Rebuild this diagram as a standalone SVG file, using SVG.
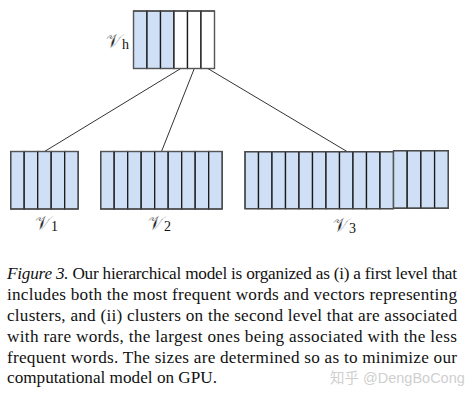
<svg xmlns="http://www.w3.org/2000/svg" width="474" height="402" viewBox="0 0 474 402">
<style>
.cell{fill:#cfdff5;stroke:#1a1a1a;stroke-width:1.3}
.wcell{fill:#ffffff;stroke:#1a1a1a;stroke-width:1.3}
.frame{fill:none;stroke:#555;stroke-width:1}
.conn{stroke:#333;stroke-width:1;fill:none}
.lbl{font-family:"DejaVu Serif","DejaVu Sans","Liberation Serif",serif;font-size:19px;fill:#222;stroke:#ffffff;stroke-width:0.3}
.sub{font-family:"Liberation Serif",serif;font-size:14px;fill:#111;stroke:none}
.cap{font-family:"Liberation Serif",serif;font-size:17.2px;fill:#111}
.wm{font-family:"Liberation Sans","Noto Sans CJK SC",sans-serif;font-size:14.5px;fill:#cfcfcf}
</style>
<rect width="474" height="402" fill="#ffffff"/>
<g id="connectors">
<line class="conn" x1="180.8" y1="68.5" x2="44.5" y2="151.5"/>
<line class="conn" x1="194.3" y1="68.5" x2="161.5" y2="151.5"/>
<line class="conn" x1="207.8" y1="68.5" x2="347" y2="151.5"/>
</g>
<g id="vh">
<rect class="cell" x="133.5" y="11" width="13.5" height="57.5"/>
<rect class="cell" x="147" y="11" width="13.5" height="57.5"/>
<rect class="cell" x="160.5" y="11" width="13.5" height="57.5"/>
<rect class="wcell" x="174" y="11" width="13.5" height="57.5"/>
<rect class="wcell" x="187.5" y="11" width="13.5" height="57.5"/>
<rect class="wcell" x="201" y="11" width="13.5" height="57.5"/>
<rect class="frame" x="133.5" y="11" width="81" height="57.5"/>
<text class="lbl" x="106" y="48">𝒱<tspan class="sub" dy="1">h</tspan></text>
</g>
<g id="v1">
<rect class="cell" x="10.7" y="151.5" width="13.5" height="57.5"/>
<rect class="cell" x="24.2" y="151.5" width="13.5" height="57.5"/>
<rect class="cell" x="37.7" y="151.5" width="13.5" height="57.5"/>
<rect class="cell" x="51.2" y="151.5" width="13.5" height="57.5"/>
<rect class="cell" x="64.7" y="151.5" width="13.5" height="57.5"/>
<rect class="frame" x="10.7" y="151.5" width="67.5" height="57.5"/>
<text class="lbl" x="35" y="230">𝒱<tspan class="sub" dy="1">1</tspan></text>
</g>
<g id="v2">
<rect class="cell" x="100.7" y="151.5" width="13.5" height="57.5"/>
<rect class="cell" x="114.2" y="151.5" width="13.5" height="57.5"/>
<rect class="cell" x="127.7" y="151.5" width="13.5" height="57.5"/>
<rect class="cell" x="141.2" y="151.5" width="13.5" height="57.5"/>
<rect class="cell" x="154.7" y="151.5" width="13.5" height="57.5"/>
<rect class="cell" x="168.2" y="151.5" width="13.5" height="57.5"/>
<rect class="cell" x="181.7" y="151.5" width="13.5" height="57.5"/>
<rect class="cell" x="195.2" y="151.5" width="13.5" height="57.5"/>
<rect class="cell" x="208.7" y="151.5" width="13.5" height="57.5"/>
<rect class="frame" x="100.7" y="151.5" width="121.5" height="57.5"/>
<text class="lbl" x="148" y="230">𝒱<tspan class="sub" dy="1">2</tspan></text>
</g>
<g id="v3">
<rect class="cell" x="245" y="151.7" width="13.5" height="57"/>
<rect class="cell" x="258.5" y="151.7" width="13.5" height="57"/>
<rect class="cell" x="272" y="151.7" width="13.5" height="57"/>
<rect class="cell" x="285.5" y="151.7" width="13.5" height="57"/>
<rect class="cell" x="299" y="151.7" width="13.5" height="57"/>
<rect class="cell" x="312.5" y="151.7" width="13.5" height="57"/>
<rect class="cell" x="326" y="151.7" width="13.5" height="57"/>
<rect class="cell" x="339.5" y="151.7" width="13.5" height="57"/>
<rect class="cell" x="353" y="151.7" width="13.5" height="57"/>
<rect class="cell" x="366.5" y="151.7" width="13.5" height="57"/>
<rect class="cell" x="380" y="151.7" width="13.5" height="57"/>
<rect class="cell" x="393.5" y="150.7" width="13.7" height="57.5"/>
<rect class="cell" x="407.2" y="150.7" width="13.7" height="57.5"/>
<rect class="cell" x="420.9" y="150.7" width="13.7" height="57.5"/>
<rect class="cell" x="434.6" y="150.7" width="13.7" height="57.5"/>
<rect class="frame" x="245" y="151.7" width="148.5" height="57"/>
<rect class="frame" x="393.5" y="150.7" width="54.8" height="57.5"/>
<text class="lbl" x="333" y="232">𝒱<tspan class="sub" dy="1">3</tspan></text>
</g>
<g id="caption">
<text class="cap" x="7" y="279.3" textLength="450" lengthAdjust="spacing"><tspan font-style="italic">Figure 3.</tspan> Our hierarchical model is organized as (i) a first level that</text>
<text class="cap" x="7" y="300.1" textLength="450" lengthAdjust="spacing">includes both the most frequent words and vectors representing</text>
<text class="cap" x="7" y="320.9" textLength="450" lengthAdjust="spacing">clusters, and (ii) clusters on the second level that are associated</text>
<text class="cap" x="7" y="341.7" textLength="450" lengthAdjust="spacing">with rare words, the largest ones being associated with the less</text>
<text class="cap" x="7" y="362.5" textLength="450" lengthAdjust="spacing">frequent words. The sizes are determined so as to minimize our</text>
<text class="cap" x="7" y="383.3">computational model on GPU.</text>
<text class="wm" x="330" y="383.3">知乎 @DengBoCong</text>
</g>
</svg>
